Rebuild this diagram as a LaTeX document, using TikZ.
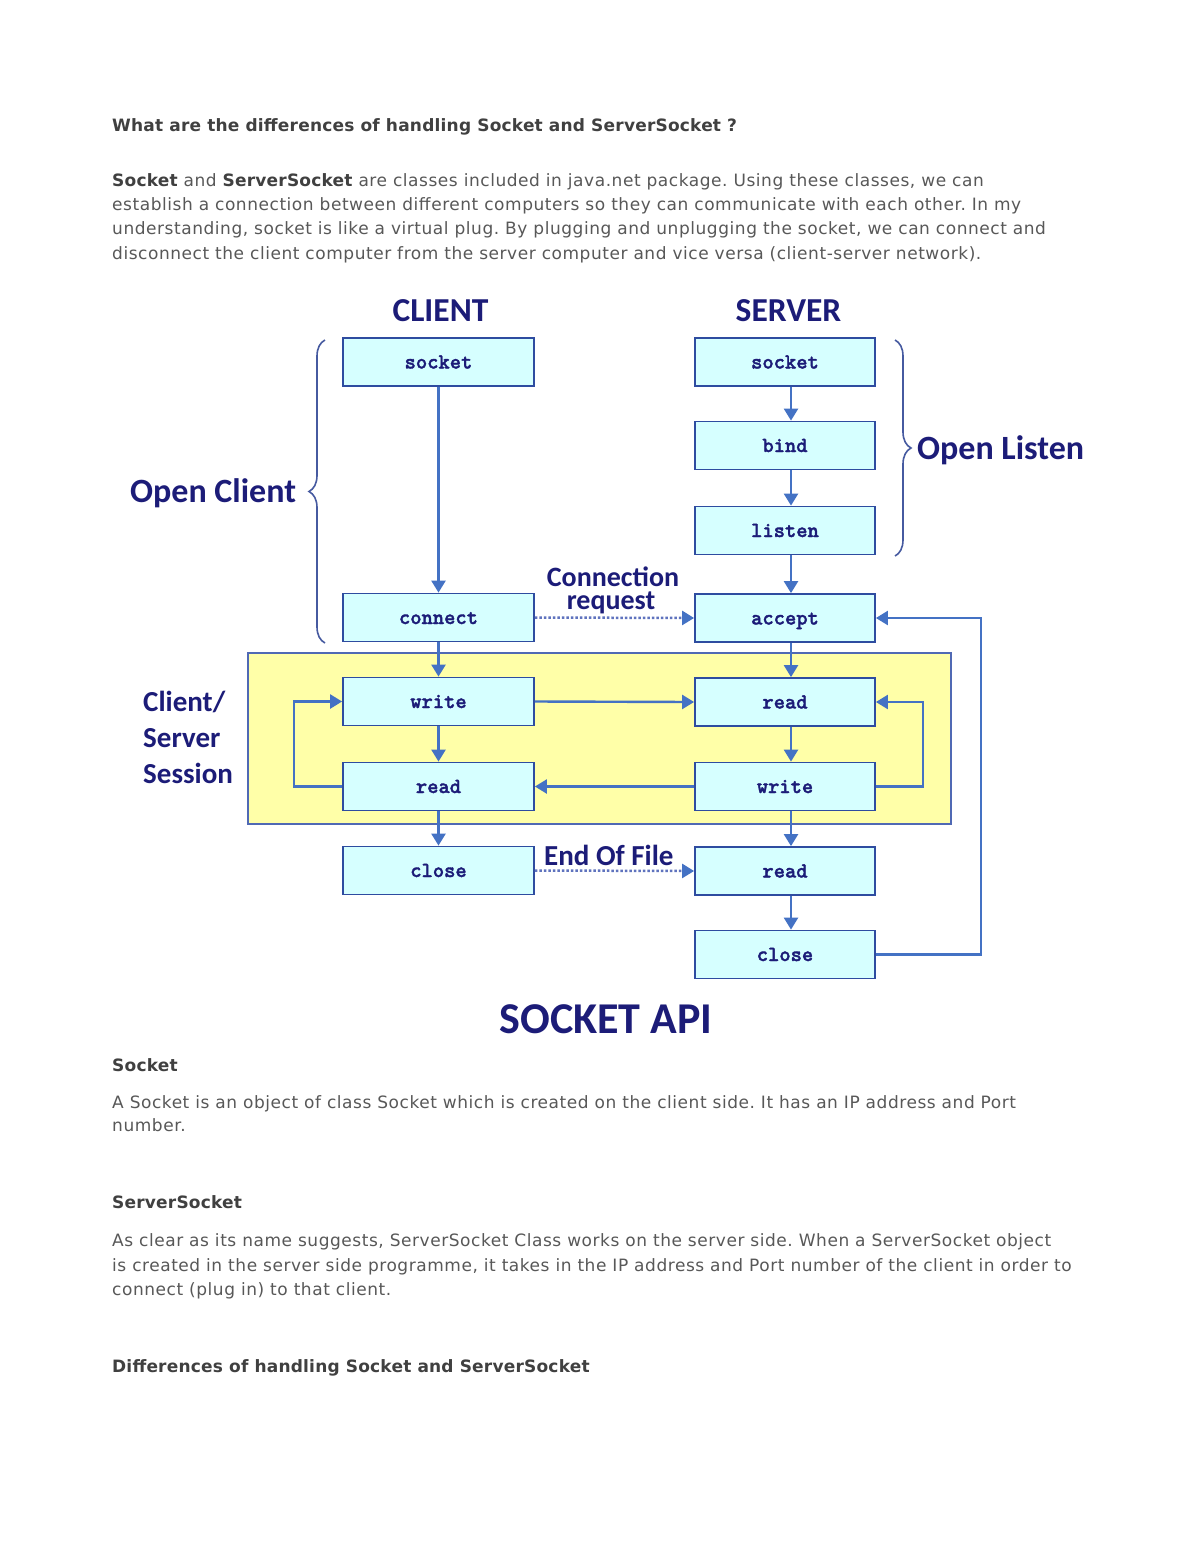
\documentclass[tikz,border=0pt]{standalone}
\usepackage{fontspec}
\setmainfont{Liberation Sans}
\newfontfamily\calib{Carlito}
\newfontfamily\boxf{lmmonolt10-bold}[Extension=.otf, FakeBold=1.6]
\newfontfamily\bodyf[LetterSpace=3.2, BoldFeatures={LetterSpace=1.2}]{DejaVu Sans}
\usetikzlibrary{arrows.meta,decorations.pathreplacing,calc}
\frenchspacing
\definecolor{navy}{RGB}{28,28,120}
\definecolor{boxfill}{RGB}{214,255,255}
\definecolor{boxline}{RGB}{46,76,160}
\definecolor{arr}{RGB}{68,114,196}
\definecolor{dotc}{RGB}{95,115,190}
\definecolor{sess}{RGB}{255,255,168}
\definecolor{sessline}{RGB}{80,105,180}
\definecolor{bodygrey}{RGB}{88,88,88}
\definecolor{boldgrey}{RGB}{64,64,64}
\definecolor{bracec}{RGB}{70,90,160}
\newcommand\hb[1]{\textcolor{boldgrey}{\bfseries #1}}
\tikzset{
  opbox/.style={draw=boxline, line width=1.8pt, fill=boxfill, minimum height=48pt,
    inner sep=0pt, text height=13pt, text depth=0pt,
    font=\boxf\fontsize{21.5}{22}\selectfont, text=navy},
  cbox/.style={opbox, minimum width=191pt},
  sbox/.style={opbox, minimum width=180pt},
  flow/.style={draw=arr, line width=2.4pt, -{Triangle[length=12pt,width=14pt]}},
  dotflow/.style={draw=dotc, line width=2.5pt, dash pattern=on 2.5pt off 2pt,
    -{Triangle[length=12pt,width=14pt,color=arr,fill=arr]}},
  lbl/.style={font=\calib\bfseries, text=navy, inner sep=0pt},
  body/.style={anchor=base west, inner sep=0pt, font=\bodyf\fontsize{17}{24}\selectfont, text=bodygrey},
  bracey/.style={draw=bracec, line width=1.6pt, decorate, decoration={brace, amplitude=16pt, aspect=0.5}}
}
\begin{document}
\begin{tikzpicture}[x=1pt,y=-1pt]
\useasboundingbox (0,0) rectangle (1200,1553);
\fill[white] (0,0) rectangle (1200,1553);

% body text top
\node[body] (t0) at (112,131) {\hb{What are the differences of handling Socket and ServerSocket ?}};
\node[body] (p1) at (112,186) {\hb{Socket} and \hb{ServerSocket} are classes included in java.net package. Using these classes, we can};
\node[body] (p2) at (112,210) {establish a connection between different computers so they can communicate with each other. In my};
\node[body] (p3) at (112,234) {understanding, socket is like a virtual plug. By plugging and unplugging the socket, we can connect and};
\node[body] (p4) at (112,259) {disconnect the client computer from the server computer and vice versa (client-server network).};

% session area
\draw[draw=sessline, line width=1.8pt, fill=sess] (248,653) rectangle (951,824);

% headings
\node[lbl, font=\calib\bfseries\fontsize{33.5}{36}\selectfont] (hc) at (440.5,311) {CLIENT};
\node[lbl, font=\calib\bfseries\fontsize{33.5}{36}\selectfont] (hs) at (788.5,311) {SERVER};

% client boxes
\node[cbox] (csock) at (438.5,362) {socket};
\node[cbox] (cconn) at (438.5,617.5) {connect};
\node[cbox] (cwrite) at (438.5,701.5) {write};
\node[cbox] (cread) at (438.5,786.5) {read};
\node[cbox] (cclose) at (438.5,870.5) {close};

% server boxes
\node[sbox] (ssock) at (785,362) {socket};
\node[sbox] (sbind) at (785,445.5) {bind};
\node[sbox] (slisten) at (785,530.5) {listen};
\node[sbox] (saccept) at (785,618) {accept};
\node[sbox] (sread) at (785,702) {read};
\node[sbox] (swrite) at (785,786.5) {write};
\node[sbox] (sread2) at (785,871) {read};
\node[sbox] (sclose) at (785,954.5) {close};
\coordinate (sx) at (791,0);

% client flow
\draw[flow] (csock.south) -- (cconn.north);
\draw[flow] (cconn.south) -- (cwrite.north);
\draw[flow] (cwrite.south) -- (cread.north);
\draw[flow] (cread.south) -- (cclose.north);
\draw[flow] (cread.west) -- ++(-48,0) |- (cwrite.west);

% server flow
\draw[flow] (ssock.south -| sx) -- (sbind.north -| sx);
\draw[flow] (sbind.south -| sx) -- (slisten.north -| sx);
\draw[flow] (slisten.south -| sx) -- (saccept.north -| sx);
\draw[flow] (saccept.south -| sx) -- (sread.north -| sx);
\draw[flow] (sread.south -| sx) -- (swrite.north -| sx);
\draw[flow] (swrite.south -| sx) -- (sread2.north -| sx);
\draw[flow] (sread2.south -| sx) -- (sclose.north -| sx);
\draw[flow] (swrite.east) -- ++(47,0) |- (sread.east);
\draw[flow] (sclose.east) -- ++(105,0) |- (saccept.east);

% cross flows
\draw[flow] (cwrite.east) -- (sread.west);
\draw[flow] (swrite.west) -- (cread.east);
\draw[dotflow] (cconn.east) -- (saccept.west);
\draw[dotflow] (cclose.east) -- (sread2.west);

% labels
\node[lbl, font=\calib\bfseries\fontsize{28}{36}\selectfont, anchor=base, text depth=0pt] (lconn1) at (613,586) {Connection};
\node[lbl, font=\calib\bfseries\fontsize{28}{36}\selectfont, anchor=base, text height=15pt] (lconn2) at (611,609) {request};
\node[lbl, font=\calib\bfseries\fontsize{29}{30}\selectfont, anchor=base west] (leof) at (544,865) {End Of File};
\node[lbl, font=\calib\bfseries\fontsize{34}{36}\selectfont, anchor=base west] (lopc) at (130,502) {Open Client};
\node[lbl, font=\calib\bfseries\fontsize{34}{36}\selectfont, anchor=base west] (lopl) at (917,459) {Open Listen};
\node[lbl, font=\calib\bfseries\fontsize{29}{36}\selectfont, anchor=base west, align=left] (lcs) at (143,783) {Client/\\Server\\Session};
\node[lbl, font=\calib\bfseries\fontsize{44}{48}\selectfont] (lapi) at (606,1019) {SOCKET API};

% braces
\draw[bracey] (325,643) -- (325,340);
\draw[bracey] (895,340) -- (895,556);

% body text bottom
\node[body] (s1) at (112,1071) {\hb{Socket}};
\node[body] (s2) at (112,1108) {A Socket is an object of class Socket which is created on the client side. It has an IP address and Port};
\node[body] (s3) at (112,1131) {number.};
\node[body] (s4) at (112,1208) {\hb{ServerSocket}};
\node[body] (s5) at (112,1246) {As clear as its name suggests, ServerSocket Class works on the server side. When a ServerSocket object};
\node[body] (s6) at (112,1271) {is created in the server side programme, it takes in the IP address and Port number of the client in order to};
\node[body] (s7) at (112,1295) {connect (plug in) to that client.};
\node[body] (s8) at (112,1372) {\hb{Differences of handling Socket and ServerSocket}};
\end{tikzpicture}
\end{document}
